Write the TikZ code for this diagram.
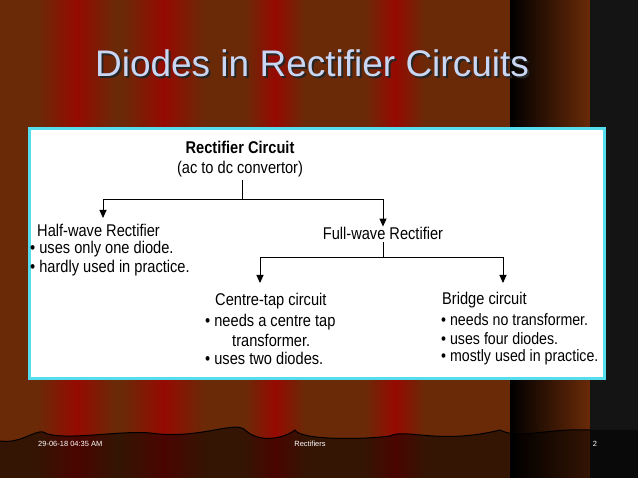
\documentclass[tikz,border=0pt]{standalone}
\usepackage{fontspec}
\setmainfont{Liberation Sans}
\newfontfamily\narrowf[FakeStretch=0.86]{Liberation Sans}
\usetikzlibrary{arrows.meta}
\definecolor{cred}{HTML}{960A02}
\definecolor{cbrown}{HTML}{6A2A08}
\definecolor{cyanb}{HTML}{55DDEE}
\definecolor{ttl}{HTML}{C9D7F5}
\tikzset{
  txt/.style={font=\narrowf\fontsize{17}{20}\selectfont, inner sep=0pt, text=black},
  lbl/.style={txt, anchor=west},
  con/.style={line width=1pt, black},
  arr/.style={con, -{Triangle[length=8pt,width=7pt]}},
  foot/.style={font=\fontsize{7.5}{9}\selectfont, text=white, inner sep=0pt}
}
\begin{document}
\begin{tikzpicture}[x=1pt,y=-1pt]
\useasboundingbox (0,0) rectangle (638,478);
\fill[cbrown] (0,0) rectangle (638,478);
% curtain stripes
\foreach \a/\b in {38/115,122/205,245/305,365/425}{
  \shade[left color=cbrown, right color=cbrown, middle color=cred] (\a,0) rectangle (\b,478);}
\shade[left color=black, right color=cbrown] (510,0) rectangle (590,478);
\fill[black!92] (590,0) rectangle (638,478);
% footer wave
\fill[black, opacity=0.5] (0,441) .. controls (20,444) and (35,430) .. (43,432) .. controls (60,442) and (120,430) .. (150,433)
 .. controls (200,440) and (235,420) .. (245,430) .. controls (260,444) and (285,438) .. (295,430) .. controls (300,440) and (360,440) .. (390,436)
 .. controls (405,428) and (440,445) .. (500,430) .. controls (520,440) and (545,428) .. (590,430) -- (638,430) -- (638,478) -- (0,478) -- cycle;
\draw[black, line width=1pt] (0,441) .. controls (20,444) and (35,430) .. (43,432) .. controls (60,442) and (120,430) .. (150,433)
 .. controls (200,440) and (235,420) .. (245,430) .. controls (260,444) and (285,438) .. (295,430) .. controls (300,440) and (360,440) .. (390,436)
 .. controls (405,428) and (440,445) .. (500,430) .. controls (520,440) and (545,428) .. (590,430);
\node[foot, anchor=west] (d) at (38,444) {29-06-18 04:35 AM};
\node[foot] (r) at (310,444) {Rectifiers};
\node[foot] (p) at (595,444) {2};
% title
\node[font=\fontsize{37}{42}\selectfont, text=black!85] at (314,65) {Diodes in Rectifier Circuits};
\node[font=\fontsize{37}{42}\selectfont, text=ttl] (title) at (312,63) {Diodes in Rectifier Circuits};
% box
\draw[cyanb, line width=3pt, fill=white] (29,129) rectangle (604,379);
% diagram
\node[txt, font=\narrowf\bfseries\fontsize{17}{20}\selectfont] (rc) at (240,147) {Rectifier Circuit};
\node[txt] (ac) at (240,169) {(ac to dc convertor)};
\node[lbl] (hw) at (37,230) {Half-wave Rectifier};
\node[lbl] at (30,249) {• uses only one diode.};
\node[lbl] at (30,268) {• hardly used in practice.};
\node[txt] (fw) at (383,233) {Full-wave Rectifier};
\node[lbl] (ct) at (215,301) {Centre-tap circuit};
\node[lbl] at (205,322) {• needs a centre tap};
\node[lbl] at (232,340) {transformer.};
\node[lbl] at (205,358) {• uses two diodes.};
\node[lbl] (bc) at (442,300) {Bridge circuit};
\node[lbl, font=\narrowf\fontsize{16.5}{20}\selectfont] at (441,320) {• needs no transformer.};
\node[lbl, font=\narrowf\fontsize{16.5}{20}\selectfont] at (441,339) {• uses four diodes.};
\node[lbl, font=\narrowf\fontsize{16.5}{20}\selectfont] at (441,357) {• mostly used in practice.};
\coordinate (j1) at (242,200);
\draw[con] (ac.south -| j1) ++(0,3) -- (j1);
\draw[arr] (j1) -| (103,218);
\draw[arr] (j1) -| (fw.north);
\coordinate (j2) at (383,258);
\draw[con] (fw.south) ++(0,3) -- (j2);
\draw[arr] (j2) -| (260,283);
\draw[arr] (j2) -| (503,283);
\end{tikzpicture}
\end{document}
